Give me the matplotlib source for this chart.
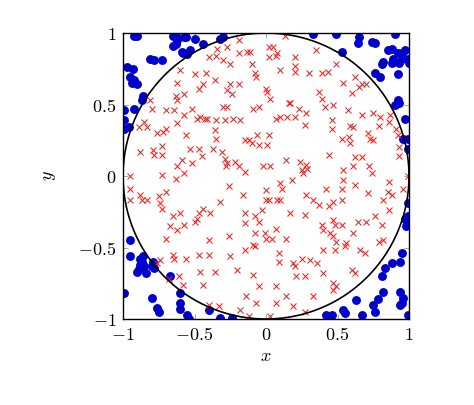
import numpy as np
import matplotlib
matplotlib.use("Agg")
import matplotlib.pyplot as plt

plt.rcParams["mathtext.fontset"] = "cm"
plt.rcParams["font.family"] = "serif"
plt.rcParams["font.serif"] = ["DejaVu Serif"]

# points inside the unit circle (red crosses)
inside_x = [
    -0.19, 0.13, 0.02, 0.05, -0.27, -0.34, -0.13, -0.11, 0.08, 0.20, 0.35, -0.19, -0.40,
    -0.30, -0.25, -0.35, -0.10, -0.08, -0.07, 0.02, 0.07, 0.20, 0.20, 0.10, 0.30, 0.39,
    0.43, 0.49, -0.60, -0.50, -0.42, -0.36,
    -0.62, -0.47, -0.44, -0.27, -0.25, -0.24, -0.19, 0.00, 0.01, 0.03, 0.16, 0.17, 0.23,
    0.28, 0.37, 0.39, 0.41, 0.47, 0.54, 0.62, 0.65, 0.67, 0.70, 0.60, 0.57, 0.67, -0.81,
    -0.63, -0.62, -0.57, -0.52, -0.70, -0.64, -0.30, -0.27, -0.80, -0.09, -0.05,
    -0.57, -0.62, -0.48, -0.46, -0.43, -0.41, -0.35, -0.29, -0.23, -0.18, 0.07, 0.10,
    0.15, 0.20, -0.89, -0.85, -0.83, -0.76, -0.72, -0.70, -0.56, -0.36, -0.35, -0.15,
    -0.12, -0.10, -0.06, 0.02, -0.05, 0.01, 0.27, 0.46, 0.46, 0.59, 0.61, 0.58, 0.75,
    0.80, 0.87, 0.71, 0.79, 0.86, 0.91, 0.92, 0.53, 0.73, 0.75, 0.59,
    -0.88, -0.79, -0.78, -0.73, -0.73, -0.53, -0.47, -0.37, -0.59, -0.52, -0.45, -0.31,
    -0.29, -0.27, -0.28, -0.22, -0.19, -0.15, -0.62, -0.63, -0.57, -0.73, -0.95, -0.95,
    -0.02, 0.03, 0.14, 0.24, 0.25, 0.26, 0.29, 0.28, 0.44, 0.62, 0.67, 0.61, 0.72, 0.93,
    0.93, 0.54, 0.99, 0.74,
    -0.88, -0.87, -0.83, -0.95, -0.75, -0.70, -0.74, -0.73, -0.32, -0.26, -0.16, 0.00,
    0.00, 0.02, 0.10, 0.11, 0.08, 0.10, 0.18, 0.28, 0.33, 0.42, 0.53, 0.54, 0.62, 0.71,
    0.86, 0.85, 0.88, 0.82, 0.96, 0.47, 0.53,
    -0.60, -0.65, -0.47, -0.44, -0.48, -0.50, -0.39, -0.67, -0.62, -0.57, -0.70, -0.15,
    -0.08, -0.03, -0.05, -0.15, 0.17, 0.27, 0.37, 0.44, 0.39, 0.40, 0.47, 0.48, 0.53,
    0.64, 0.70, 0.76, 0.81, 0.86, -0.01, 0.00, 0.04, 0.07, -0.08, 0.14, 0.45, 0.47, 0.49,
    0.56, 0.61, 0.79, 0.82, -0.26, -0.40,
    -0.40, -0.47, -0.56, -0.65, -0.64, -0.74, -0.76, -0.61, -0.25, -0.09, -0.08, -0.15,
    0.09, 0.09, 0.19, 0.20, 0.25, 0.31, 0.36, 0.40, 0.48, 0.55, 0.66, 0.69, 0.60, 0.62,
    0.40, 0.47, 0.49, 0.27, 0.21, -0.09, -0.20, -0.36, -0.46, -0.68,
    -0.58, -0.44, -0.33, -0.40, -0.18, -0.14, -0.07, -0.05, 0.07, 0.07, 0.14, 0.19, 0.27,
    0.33, 0.47, -0.12, 0.03,
]
inside_y = [
    0.95, 0.98, 0.90, 0.90, 0.90, 0.89, 0.87, 0.87, 0.86, 0.83, 0.88, 0.86, 0.83,
    0.81, 0.78, 0.84, 0.78, 0.72, 0.69, 0.83, 0.84, 0.77, 0.73, 0.74, 0.72, 0.72,
    0.73, 0.78, 0.74, 0.71, 0.72, 0.67,
    0.65, 0.61, 0.64, 0.60, 0.64, 0.57, 0.64, 0.61, 0.59, 0.54, 0.51, 0.51, 0.47,
    0.44, 0.59, 0.54, 0.48, 0.50, 0.65, 0.69, 0.62, 0.64, 0.64, 0.58, 0.46, 0.43, 0.53,
    0.56, 0.53, 0.57, 0.47, 0.46, 0.46, 0.48, 0.48, 0.47, 0.47, 0.48,
    0.43, 0.37, 0.40, 0.41, 0.40, 0.40, 0.39, 0.39, 0.40, 0.39, 0.40, 0.41,
    0.41, 0.41, 0.34, 0.38, 0.34, 0.30, 0.31, 0.33, 0.29, 0.32, 0.26, 0.25,
    0.25, 0.23, 0.29, 0.29, 0.22, 0.22, 0.36, 0.39, 0.33, 0.35, 0.34, 0.27, 0.44,
    0.41, 0.43, 0.30, 0.35, 0.38, 0.33, 0.29, 0.26, 0.26, 0.25, 0.23,
    0.17, 0.18, 0.15, 0.21, 0.15, 0.19, 0.19, 0.19, 0.11, 0.09, 0.14, 0.17,
    0.12, 0.09, 0.07, 0.10, 0.07, 0.03, 0.07, -0.02, 0.02, 0.01, 0.00, -0.09,
    0.07, 0.07, 0.11, 0.10, 0.04, 0.02, 0.05, 0.08, 0.15, 0.13, 0.13, 0.07, 0.07, 0.14,
    0.20, 0.04, 0.00, 0.02,
    -0.13, -0.17, -0.17, -0.17, -0.14, -0.11, -0.19, -0.23, -0.18, -0.07, -0.13, -0.10,
    -0.17, -0.17, -0.05, -0.09, -0.17, -0.17, -0.03, -0.13, -0.17, -0.09, -0.09, -0.03,
    -0.06, -0.12, -0.04, -0.11, -0.13, -0.17, -0.09, -0.18, -0.17,
    -0.26, -0.28, -0.26, -0.23, -0.30, -0.32, -0.26, -0.35, -0.38, -0.34, -0.44, -0.26,
    -0.28, -0.24, -0.32, -0.33, -0.26, -0.27, -0.20, -0.21, -0.34, -0.38, -0.31, -0.34,
    -0.34, -0.32, -0.32, -0.28, -0.34, -0.24, -0.40, -0.44, -0.44, -0.37, -0.40, -0.44,
    -0.40, -0.42, -0.46, -0.47, -0.40, -0.46, -0.45, -0.42, -0.45,
    -0.55, -0.55, -0.58, -0.55, -0.58, -0.59, -0.61, -0.70, -0.56, -0.48, -0.49, -0.52,
    -0.54, -0.60, -0.61, -0.63, -0.58, -0.59, -0.61, -0.52, -0.52, -0.49, -0.52, -0.54,
    -0.66, -0.68, -0.68, -0.75, -0.77, -0.70, -0.70, -0.69, -0.66, -0.67, -0.67, -0.72,
    -0.76, -0.76, -0.91, -0.90, -0.94, -0.84, -0.89, -0.77, -0.77, -0.89, -0.84, -0.91,
    -0.95, -0.84, -0.80, -0.98, -0.98,
]

# points outside the circle (blue dots)
outside_x = [
    -0.92, -0.65, -0.57, -0.65, -0.59, -0.53, -0.81, -0.78, -0.73, -0.97, -0.93, -0.95,
    -0.92, -0.94, -0.90, -0.86, -0.87, -0.99, -0.92, -0.99, -0.99, -0.96, -0.90, -0.63,
    -0.62, -0.63, -0.56, -0.50, -0.44, -0.58, -0.55, -0.32, -0.30,
    0.33, 0.49, 0.65, 0.64, 0.74, 0.76, 0.90, 0.53, 0.85, 0.88, 0.92, 0.95, 0.97, 0.89,
    0.95, 0.99, 1.00, 0.93, 0.82, 0.88, 0.81, 0.76, 0.80, 0.92, 0.92, 0.93, 0.90, 0.97,
    0.96, 0.99, 0.99,
    -0.95, -0.95, -0.88, -0.86, -0.87, -0.88, -0.89, -0.90, -0.85, -0.84, -0.80, -0.79,
    -0.78, -0.67, -0.99, -0.80, -0.76, -0.75, -0.60, -0.60, -0.60, -0.54, -0.40, -0.32,
    -0.24, -0.55,
    0.98, 0.95, 0.94, 0.88, 0.83, 0.81, 0.82, 0.94, 0.96, 0.95, 0.94, 0.78, 0.75, 0.76,
    0.63, 0.67, 0.54, 0.55, 0.42, 0.46, 0.99, 0.99, 0.99, 0.97, 1.00,
]
outside_y = [
    0.98, 0.98, 0.97, 0.91, 0.87, 0.88, 0.82, 0.81, 0.81, 0.76, 0.75, 0.69,
    0.67, 0.65, 0.64, 0.56, 0.53, 0.46, 0.47, 0.39, 0.33, 0.34, 0.98, 0.98,
    0.95, 0.92, 0.97, 0.96, 0.92, 0.86, 0.85, 0.96, 0.97,
    0.99, 0.99, 0.97, 0.93, 0.94, 0.93, 0.99, 0.87, 0.88, 0.89, 0.86, 0.86, 0.88, 0.82,
    0.82, 0.82, 0.79, 0.79, 0.80, 0.79, 0.78, 0.72, 0.69, 0.71, 0.53, 0.51, 0.50, 0.40,
    0.26, 0.19, 0.26,
    -0.45, -0.56, -0.58, -0.56, -0.60, -0.62, -0.65, -0.67, -0.63, -0.68, -0.63, -0.60,
    -0.64, -0.70, -0.82, -0.85, -0.92, -0.95, -0.82, -0.89, -0.93, -1.00, -0.94, -0.99,
    -0.99, -0.97,
    -0.35, -0.54, -0.60, -0.61, -0.64, -0.70, -0.81, -0.81, -0.85, -0.89, -0.90, -0.86,
    -0.90, -0.95, -0.87, -0.97, -0.94, -0.96, -0.97, -0.97, -0.97, -0.19, -0.28, -0.30,
    -0.34,
]

ticks = [-1, -0.5, 0, 0.5, 1]
tick_labels = [r"$-1$", r"$-0.5$", r"$0$", r"$0.5$", r"$1$"]

fig = plt.figure(figsize=(4.74, 4.05), dpi=100)
ax = fig.add_axes([0.2595, 0.2123, 0.6034, 0.7062])

ax.plot(outside_x, outside_y, "o", color="#0000cc", markersize=6.4,
        markeredgewidth=0, zorder=2)
ax.plot(inside_x, inside_y, "x", color="#e8231f", markersize=4.2,
        markeredgewidth=0.75, zorder=2)

t = np.linspace(0, 2 * np.pi, 400)
ax.plot(np.cos(t), np.sin(t), color="black", linewidth=1.2, zorder=3)

ax.set_xlim(-1, 1)
ax.set_ylim(-1, 1)
ax.set_xticks(ticks)
ax.set_yticks(ticks)
ax.set_xticklabels(tick_labels, fontsize=13)
ax.set_yticklabels(tick_labels, fontsize=13)
ax.tick_params(direction="in", length=3.5, width=0.6, color="#999999",
               top=True, right=True, pad=5)
for s in ax.spines.values():
    s.set_linewidth(1.0)
ax.set_xlabel(r"$x$", fontsize=13, labelpad=2)
ax.set_ylabel(r"$y$", fontsize=13, labelpad=14)

fig.savefig("out.png", dpi=100)
